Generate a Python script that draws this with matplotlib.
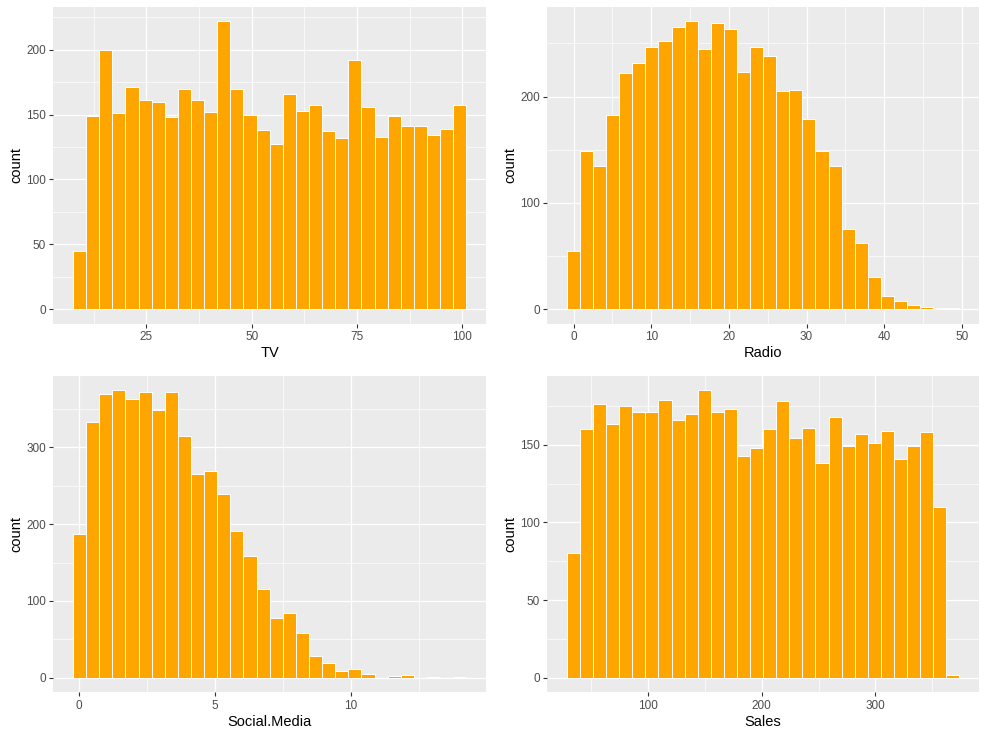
import matplotlib
matplotlib.use("Agg")
import matplotlib.pyplot as plt
from matplotlib.ticker import MultipleLocator
import numpy as np

plt.rcParams['font.family'] = ['Liberation Sans', 'DejaVu Sans']

# ---- data (histogram counts, 30 bins each) ----
tv_counts = [45, 149, 200, 151, 171, 161, 160, 148, 170, 161,
             152, 222, 170, 150, 138, 127, 166, 153, 157, 137,
             132, 192, 156, 133, 149, 141, 141, 134, 139, 157]
tv_bin_start, tv_bin_width = 7.58, 3.112

radio_counts = [55, 149, 135, 183, 222, 232, 247, 252, 265, 271,
                245, 269, 264, 223, 247, 238, 205, 206, 179, 149,
                135, 75, 62, 30, 12, 8, 4, 2, 1, 1]
radio_bin_start, radio_bin_width = -0.86, 1.685

social_counts = [187, 333, 369, 374, 362, 372, 348, 371, 315, 265,
                 269, 239, 191, 159, 115, 78, 84, 58, 29, 20,
                 9, 12, 5, 0, 2, 4, 0, 1, 0, 1]
social_bin_start, social_bin_width = -0.22, 0.4817

sales_counts = [80, 160, 176, 163, 175, 171, 171, 179, 166, 170,
                185, 171, 173, 143, 148, 160, 178, 154, 161, 138,
                168, 149, 157, 151, 159, 141, 149, 158, 110, 2]
sales_bin_start, sales_bin_width = 28.65, 11.51

panels = [
    ("TV", tv_counts, tv_bin_start, tv_bin_width, 25, 50),
    ("Radio", radio_counts, radio_bin_start, radio_bin_width, 10, 100),
    ("Social.Media", social_counts, social_bin_start, social_bin_width, 5, 100),
    ("Sales", sales_counts, sales_bin_start, sales_bin_width, 100, 50),
]

W, H = 987, 738
fig = plt.figure(figsize=(W / 100, H / 100), dpi=100)

rects = [
    (53.3, 6.7, 486.0, 323.5),
    (547.3, 6.7, 979.0, 323.5),
    (53.3, 375.8, 486.0, 692.3),
    (547.3, 375.8, 979.0, 692.3),
]

for (name, counts, start, width, xstep, ystep), (x0, y0, x1, y1) in zip(panels, rects):
    ax = fig.add_axes([x0 / W, 1 - y1 / H, (x1 - x0) / W, (y1 - y0) / H])
    counts = np.asarray(counts)
    edges = start + width * np.arange(len(counts) + 1)
    ax.set_facecolor('#EBEBEB')
    ax.bar(edges[:-1], counts, width=width, align='edge', color='#FFA500',
           edgecolor='white', linewidth=0.7, zorder=3)
    rng = edges[-1] - edges[0]
    ax.set_xlim(edges[0] - 0.05 * rng, edges[-1] + 0.05 * rng)
    ax.set_ylim(-0.05 * counts.max(), 1.05 * counts.max())
    ax.xaxis.set_major_locator(MultipleLocator(xstep))
    ax.xaxis.set_minor_locator(MultipleLocator(xstep / 2))
    ax.yaxis.set_major_locator(MultipleLocator(ystep))
    ax.yaxis.set_minor_locator(MultipleLocator(ystep / 2))
    ax.grid(which='major', color='white', linewidth=0.9, zorder=1)
    ax.grid(which='minor', color='white', linewidth=0.5, zorder=1)
    ax.set_axisbelow(True)
    for s in ax.spines.values():
        s.set_visible(False)
    ax.tick_params(which='major', length=2.7, width=0.8, color='#333333',
                   labelcolor='#4D4D4D', labelsize=8.5, pad=2.5)
    ax.tick_params(which='minor', length=0)
    ax.set_xlabel(name, fontsize=10.5, color='black', labelpad=2.5)
    ax.set_ylabel('count', fontsize=10.5, color='black', labelpad=2)

fig.savefig('out.png', dpi=100)
